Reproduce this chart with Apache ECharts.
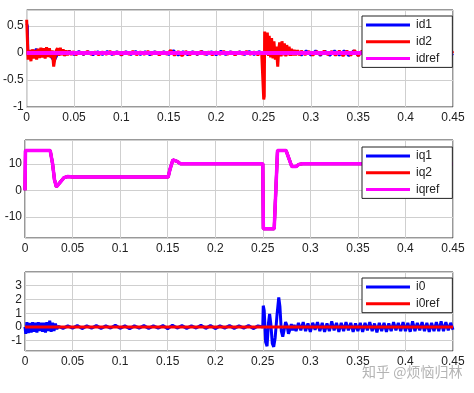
<!DOCTYPE html>
<html><head><meta charset="utf-8">
<script src="https://cdn.jsdelivr.net/npm/echarts@6/dist/echarts.min.js"></script>
<style>html,body{margin:0;padding:0;background:#fff}#c{width:474px;height:393px}</style>
</head><body><div id="c"></div>
<script>
// ---------- data (time [s], value) ----------
const id1Pts = [[0,0.55],[0.001,0.5],[0.0015,-0.05],[0.005,-0.08],[0.01,0.08],[0.015,-0.06],[0.02,0.08],[0.025,-0.05],[0.029,-0.15],[0.035,0.06],[0.04,-0.04],[0.045,0.04],[0.05,-0.03],
[0.055,0.035],[0.06,-0.03],[0.065,0.03],[0.07,-0.035],[0.075,0.03],[0.08,-0.03],[0.085,0.035],[0.09,-0.03],[0.095,0.03],[0.1,-0.04],[0.105,0.03],[0.11,-0.03],[0.115,0.035],[0.12,-0.03],[0.125,0.03],[0.13,-0.035],[0.135,0.03],[0.14,-0.03],[0.145,0.03],[0.15,-0.03],[0.155,0.05],[0.16,-0.04],[0.165,0.03],[0.17,-0.035],[0.175,0.03],[0.18,-0.03],[0.185,0.035],[0.19,-0.03],[0.195,0.03],[0.2,-0.035],[0.205,0.04],[0.21,-0.03],[0.215,0.03],[0.22,-0.035],[0.225,0.03],[0.23,-0.03],[0.235,0.035],[0.24,-0.03],[0.245,0.03],[0.25,0.0],
[0.255,0.05],[0.26,0.0],[0.265,-0.05],[0.27,0.08],[0.275,0.05],[0.28,0.04],[0.285,0.03],[0.29,-0.04],[0.295,0.045],[0.3,-0.04],[0.305,0.045],[0.31,-0.045],[0.315,0.04],[0.32,-0.045],[0.325,0.045],[0.33,-0.04],[0.335,0.045],[0.34,-0.05],[0.345,0.045],[0.35,-0.045],[0.355,0.05],[0.36,-0.045],[0.365,0.045],[0.37,-0.05],[0.375,0.045],[0.38,-0.045],[0.385,0.05],[0.39,-0.045],[0.395,0.045],[0.4,-0.05],[0.405,0.045],[0.41,-0.045],[0.415,0.05],[0.42,-0.045],[0.425,0.045],[0.43,-0.05],[0.435,0.045],[0.44,-0.045],[0.445,0.05],[0.45,-0.04]];

const id2Pts = [[0,0.62],[0.0008,0.64],[0.0015,-0.12],[0.003,0.06],[0.0045,-0.15],[0.006,0.07],[0.0075,-0.1],[0.009,0.06],[0.0105,-0.12],[0.012,0.08],[0.0135,-0.09],[0.015,0.1],[0.0165,-0.08],[0.018,0.09],[0.0195,-0.1],[0.021,0.11],[0.0225,-0.07],[0.024,0.09],[0.0255,-0.08],[0.027,0.05],[0.0285,-0.25],[0.0295,-0.22],[0.031,0.04],[0.0325,0.09],[0.034,-0.05],[0.0355,0.1],[0.037,-0.04],[0.0385,0.07],[0.04,-0.05],[0.0415,0.05],[0.043,-0.04],[0.045,0.04],[0.047,-0.03],[0.049,0.03],
[0.052,-0.03],[0.056,0.02],[0.06,-0.02],[0.064,0.03],[0.068,-0.02],[0.072,0.02],[0.076,-0.03],[0.08,0.02],[0.084,-0.02],[0.088,0.03],[0.092,-0.02],[0.096,0.02],[0.1,-0.03],[0.104,0.02],[0.108,-0.02],[0.112,0.03],[0.116,-0.03],[0.12,0.02],[0.124,-0.02],[0.128,0.03],[0.132,-0.02],[0.136,0.02],[0.14,-0.03],[0.144,0.02],[0.148,-0.02],[0.152,0.05],[0.156,-0.04],[0.16,0.03],[0.164,-0.05],[0.168,0.03],[0.172,-0.03],[0.176,0.02],[0.18,-0.02],[0.184,0.03],[0.188,-0.02],[0.192,0.02],[0.196,-0.03],[0.2,0.02],[0.204,-0.02],[0.208,0.03],[0.212,-0.02],[0.216,0.02],[0.22,-0.03],[0.224,0.02],[0.228,-0.02],[0.232,0.03],[0.236,-0.02],[0.24,0.02],[0.244,-0.03],[0.248,0.02],
[0.2502,-0.86],[0.2508,-0.8],[0.2512,0.4],[0.2522,0.42],[0.2532,0.0],[0.254,0.38],[0.2552,-0.05],[0.256,0.32],[0.2575,-0.08],[0.2585,0.28],[0.26,-0.1],[0.261,0.22],[0.2625,-0.12],[0.2635,0.12],[0.265,-0.25],[0.266,0.05],[0.267,0.2],[0.2685,-0.06],[0.2695,0.22],[0.271,-0.04],[0.272,0.18],[0.2735,-0.06],[0.2745,0.15],[0.276,-0.04],[0.277,0.12],[0.2785,-0.05],[0.2795,0.08],[0.281,-0.04],[0.2825,0.06],[0.284,-0.04],[0.286,0.05],[0.288,-0.04],[0.29,0.04],
[0.294,-0.03],[0.298,0.03],[0.302,-0.04],[0.306,0.03],[0.31,-0.03],[0.314,0.04],[0.318,-0.03],[0.322,0.03],[0.326,-0.04],[0.33,0.04],[0.334,-0.05],[0.338,0.04],[0.342,-0.04],[0.346,0.05],[0.35,-0.05],[0.354,0.04],[0.358,-0.05],[0.362,0.05],[0.366,-0.04],[0.37,0.05],[0.374,-0.05],[0.378,0.04],[0.382,-0.05],[0.386,0.05],[0.39,-0.04],[0.394,0.05],[0.398,-0.05],[0.402,0.04],[0.406,-0.05],[0.41,0.05],[0.414,-0.04],[0.418,0.05],[0.422,-0.05],[0.426,0.04],[0.43,-0.05],[0.434,0.05],[0.438,-0.04],[0.442,0.05],[0.446,-0.05],[0.45,0.04]];

const idrefPts = [[0,0],[0.45,0]];

const iqrefPts = [[0,0],[0.0005,15],[0.0265,15],[0.029,10],[0.031,4],[0.033,1.3],[0.035,1.6],[0.038,3.5],[0.041,4.8],[0.045,5.2],[0.05,5],[0.1505,5],[0.1525,8],[0.1555,11.5],[0.1575,12],[0.1605,10.8],[0.1635,10],[0.1655,9.8],[0.17,10],[0.25,10],[0.2506,-14.5],[0.262,-14.5],[0.2655,15],[0.2745,15],[0.2775,12],[0.2805,9],[0.282,8.3],[0.285,9],[0.288,9.8],[0.292,10],[0.45,10]];
const iq1Pts = iqrefPts;
const iq2Pts = iqrefPts;

const i0Pts = [[0,0],[0.0008,-0.5],[0.002,0.35],[0.0035,-0.45],[0.005,0.3],[0.0065,-0.4],[0.008,0.35],[0.0095,-0.35],[0.011,0.3],[0.0125,-0.4],[0.014,0.35],[0.0155,-0.3],[0.017,0.3],[0.0185,-0.35],[0.02,0.3],[0.0215,-0.4],[0.023,0.35],[0.0245,-0.3],[0.026,0.45],[0.0275,-0.35],[0.029,0.3],[0.0305,-0.3],[0.032,0.25],[0.0335,-0.15],[0.035,0.05],
[0.04,-0.1],[0.045,0.08],[0.05,-0.08],[0.055,0.1],[0.06,-0.12],[0.065,0.08],[0.07,-0.08],[0.075,0.1],[0.08,-0.1],[0.085,0.08],[0.09,-0.08],[0.095,0.12],[0.1,-0.1],[0.105,0.08],[0.11,-0.13],[0.115,0.08],[0.12,-0.08],[0.125,0.1],[0.13,-0.1],[0.135,0.08],[0.14,-0.08],[0.145,0.1],[0.15,-0.13],[0.155,0.13],[0.16,-0.08],[0.165,0.1],[0.17,-0.1],[0.175,0.08],[0.18,-0.08],[0.185,0.12],[0.19,-0.1],[0.195,0.1],[0.2,-0.12],[0.205,0.08],[0.21,-0.08],[0.215,0.1],[0.22,-0.1],[0.225,0.08],[0.23,-0.08],[0.235,0.1],[0.24,-0.12],[0.245,0.08],[0.25,0.0],
[0.2505,1.55],[0.2515,1.2],[0.253,-1.1],[0.2545,-1.4],[0.256,0.3],[0.2572,0.95],[0.2585,0.2],[0.26,-1.2],[0.2615,-1.45],[0.263,-0.8],[0.265,0.9],[0.2668,2.15],[0.268,1.5],[0.2695,-0.3],[0.271,-0.7],[0.2725,-0.2],[0.274,0.35],[0.2755,0.1],[0.277,-0.5],[0.2785,-0.2],[0.28,0.2],[0.2815,-0.25],[0.283,0.15],
[0.285,-0.3],[0.2875,0.3],[0.29,-0.25],[0.2925,0.35],[0.295,-0.3],[0.2975,0.25],[0.3,-0.35],[0.3025,0.3],[0.305,-0.2],[0.3075,0.35],[0.31,-0.3],[0.3125,0.3],[0.315,-0.35],[0.3175,0.25],[0.32,-0.3],[0.3225,0.4],[0.325,-0.25],[0.3275,0.3],[0.33,-0.35],[0.3325,0.3],[0.335,-0.3],[0.3375,0.35],[0.34,-0.25],[0.3425,0.3],[0.345,-0.35],[0.3475,0.25],[0.35,-0.3],[0.3525,0.3],[0.355,-0.35],[0.3575,0.3],[0.36,-0.25],[0.3625,0.35],[0.365,-0.3],[0.3675,0.25],[0.37,-0.4],[0.3725,0.3],[0.375,-0.3],[0.3775,0.3],[0.38,-0.35],[0.3825,0.25],[0.385,-0.3],[0.3875,0.35],[0.39,-0.25],[0.3925,0.3],[0.395,-0.3],[0.3975,0.35],[0.4,-0.3],[0.4025,0.3],[0.405,-0.35],[0.4075,0.4],[0.41,-0.3],[0.4125,0.3],[0.415,-0.25],[0.4175,0.35],[0.42,-0.3],[0.4225,0.3],[0.425,-0.35],[0.4275,0.3],[0.43,-0.3],[0.4325,0.35],[0.435,-0.3],[0.4375,0.4],[0.44,-0.3],[0.4425,0.35],[0.445,-0.25],[0.4475,0.3],[0.45,-0.2]];

const i0refPts = [[0,0],[0.45,0]];

const legend1 = ['id1','id2','idref'];
const legend2 = ['iq1','iq2','iqref'];
const legend3 = ['i0','i0ref'];
const watermark = '知乎 @烦恼归林';

// ---------- chart ----------
const FONT = 'Liberation Sans';
const BLUE = '#0000ff', RED = '#ff0000', MAG = '#ff00ff';
const grids = [
  {left:25, top:10, width:428, height:97},
  {left:25, top:140, width:428, height:98},
  {left:25, top:272, width:428, height:79}
].map(g => Object.assign({show:true, borderColor:'#333', borderWidth:1, backgroundColor:'#fff'}, g));

function xAx(i){
  return {type:'value', gridIndex:i, min:0, max:0.45, interval:0.05,
    axisLine:{show:false}, axisTick:{show:false},
    splitLine:{show:true, lineStyle:{color:'#cfcfcf', width:1}},
    axisLabel:{fontSize:12, color:'#222', margin:5, fontFamily:FONT}};
}
function yAx(i, extra){
  return Object.assign({type:'value', gridIndex:i,
    axisLine:{show:false}, axisTick:{show:false},
    splitLine:{show:true, lineStyle:{color:'#cfcfcf', width:1}}}, extra);
}
function ser(name, pts, i, color, w){
  return {name, type:'line', xAxisIndex:i, yAxisIndex:i, data:pts, showSymbol:false,
    symbol:'none', lineStyle:{color, width:w}, itemStyle:{color}, animation:false, clip:true};
}
function leg(data, top){
  return {data, orient:'vertical', left:362, top, icon:'rect', itemWidth:44, itemHeight:3,
    itemGap:2.7, padding:[2,13,2,4], backgroundColor:'#fff', borderColor:'#222', borderWidth:1,
    borderRadius:0, selectedMode:false,
    textStyle:{fontSize:12, color:'#222', fontFamily:FONT, lineHeight:14, padding:[0,0,0,1]}};
}

const chart = echarts.init(document.getElementById('c'), null, {renderer:'canvas'});
chart.setOption({
  animation:false,
  backgroundColor:'#fff',
  grid: grids,
  xAxis: [xAx(0), xAx(1), xAx(2)],
  yAxis: [
    yAx(0, {min:-1, max:0.8, interval:0.5,
      axisLabel:{fontSize:12, color:'#222', margin:3, fontFamily:FONT, showMaxLabel:false}}),
    yAx(1, {min:-18, max:19, splitNumber:4,
      axisLabel:{fontSize:12, color:'#222', margin:3, fontFamily:FONT, showMinLabel:false, showMaxLabel:false}}),
    yAx(2, {min:-1.75, max:4, splitNumber:6,
      axisLabel:{fontSize:12, color:'#222', margin:3, fontFamily:FONT, showMinLabel:false, showMaxLabel:false}})
  ],
  legend: [leg(legend1, 16), leg(legend2, 147), leg(legend3, 278)],
  series: [
    ser(legend1[0], id1Pts, 0, BLUE, 2.5),
    ser(legend1[1], id2Pts, 0, RED, 3),
    ser(legend1[2], idrefPts, 0, MAG, 4),
    ser(legend2[0], iq1Pts, 1, BLUE, 3),
    ser(legend2[1], iq2Pts, 1, RED, 3),
    ser(legend2[2], iqrefPts, 1, MAG, 3.5),
    ser(legend3[0], i0Pts, 2, BLUE, 3),
    ser(legend3[1], i0refPts, 2, RED, 3)
  ],
  graphic: [{type:'text', left:362, top:365,
    style:{text:watermark, fontSize:14, fill:'rgba(160,160,160,0.8)', fontFamily:'Noto Sans CJK SC'}}]
});
</script></body></html>
